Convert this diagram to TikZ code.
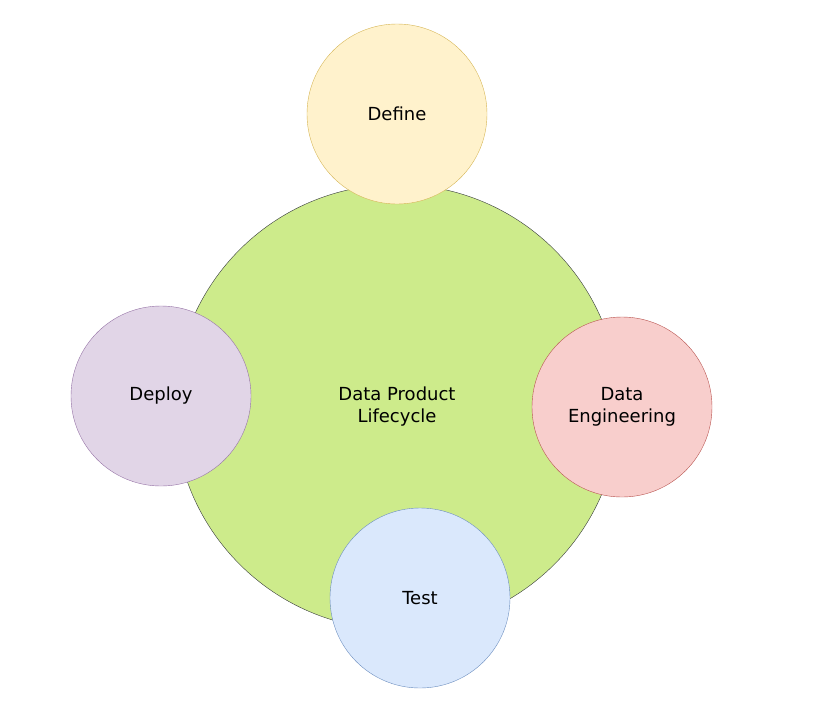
\documentclass[tikz,border=0pt]{standalone}
\usepackage{fontspec}
\setmainfont{DejaVu Sans}
\definecolor{gF}{HTML}{CDEB8B}\definecolor{gS}{HTML}{36393D}
\definecolor{yF}{HTML}{FFF2CC}\definecolor{yS}{HTML}{D6B656}
\definecolor{rF}{HTML}{F8CECC}\definecolor{rS}{HTML}{B85450}
\definecolor{pF}{HTML}{E1D5E7}\definecolor{pS}{HTML}{9673A6}
\definecolor{bF}{HTML}{DAE8FC}\definecolor{bS}{HTML}{6C8EBF}
\tikzset{circ/.style={circle,minimum size=180pt,inner sep=0pt,align=center,font=\fontsize{18pt}{22pt}\selectfont}}
\begin{document}
\begin{tikzpicture}[x=1pt,y=-1pt]
\useasboundingbox (0,0) rectangle (816,715);
\node[circ,minimum size=445pt,fill=gF,draw=gS] (main) at (397,407) {Data Product\\ Lifecycle};
\node[circ,fill=yF,draw=yS] (define) at (397,114) {Define};
\node[circ,fill=pF,draw=pS] (deploy) at (161,396) {Deploy};
\node[circ,fill=rF,draw=rS] (eng) at (622,407) {Data\\Engineering};
\node[circ,fill=bF,draw=bS] (test) at (420,598) {Test};
\end{tikzpicture}
\end{document}
